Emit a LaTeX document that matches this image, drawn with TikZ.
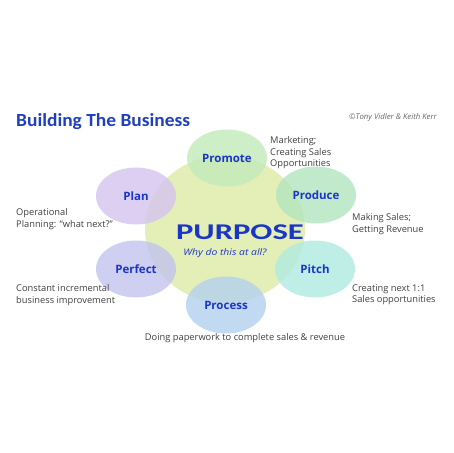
\documentclass[tikz,border=0pt]{standalone}
\usepackage{fontspec}
\setmainfont{Open Sans}
\newfontfamily\titlefont{Carlito}
\usepackage{xcolor}
\usetikzlibrary{shapes.geometric}
\definecolor{titleblue}{HTML}{1F3FBF}
\definecolor{textblue}{HTML}{1A36C8}
\definecolor{hubfill}{HTML}{E2EEB0}
\definecolor{promotefill}{HTML}{C2EABA}
\definecolor{producefill}{HTML}{B2E4BE}
\definecolor{pitchfill}{HTML}{B0EAE2}
\definecolor{processfill}{HTML}{B2D0EE}
\definecolor{perfectfill}{HTML}{C2C4EE}
\definecolor{planfill}{HTML}{D4C4EE}
\tikzstyle{petal} = [ellipse, minimum width=80pt, minimum height=57pt, inner sep=0pt,
  text=textblue, font=\bfseries\fontsize{11.5}{13}\selectfont, fill opacity=0.8, text opacity=1]
\tikzstyle{note} = [align=left, anchor=north west, inner sep=0pt, text=black!75,
  font=\fontsize{9.3}{11.8}\selectfont]

\begin{document}
\begin{tikzpicture}[x=1pt, y=-1pt]
\useasboundingbox[fill=white] (0,0) rectangle (453,453);

% Title
\node (title) [anchor=west, inner sep=0pt, xscale=1.05, text=titleblue, font=\titlefont\bfseries\fontsize{18.5}{20}\selectfont] at (16,122) {Building The Business};
\node (credit) [anchor=east, inner sep=0pt, text=black!60, font=\itshape\fontsize{7.8}{9}\selectfont] at (437,117) {\textcopyright Tony Vidler \& Keith Kerr};

% Hub
\node (hub) [ellipse, minimum width=160pt, minimum height=148pt, fill=hubfill, fill opacity=0.9] at (225,229) {};
\node (purpose) [inner sep=0pt, xscale=1.45, text=textblue, font=\titlefont\bfseries\fontsize{22.5}{26}\selectfont] at (240,232) {PURPOSE};
\node (why) [inner sep=0pt, xscale=1.15, text=textblue, font=\itshape\fontsize{9}{10}\selectfont] at (225,253) {Why do this at all?};

% Petals
\node (promote) [petal, fill=promotefill] at (227,158) {Promote};
\node (produce) [petal, fill=producefill] at (316,195) {Produce};
\node (pitch)   [petal, fill=pitchfill]   at (315,269) {Pitch};
\node (process) [petal, fill=processfill] at (226,305) {Process};
\node (perfect) [petal, fill=perfectfill] at (136,269) {Perfect};
\node (plan)    [petal, fill=planfill]    at (136,196) {Plan};

% Notes
\node (promotenote) [note] at (270,136) {Marketing;\\Creating Sales\\Opportunities};
\node (producenote) [note] at (352,213) {Making Sales;\\Getting Revenue};
\node (pitchnote)   [note] at (352,284) {Creating next 1:1\\Sales opportunities};
\node (processnote) [note, anchor=north] at (245,333) {Doing paperwork to complete sales \& revenue};
\node (perfectnote) [note] at (16,284) {Constant incremental\\business improvement};
\node (plannote)    [note] at (16,208) {Operational\\Planning: ``what next?''};

\end{tikzpicture}
\end{document}
